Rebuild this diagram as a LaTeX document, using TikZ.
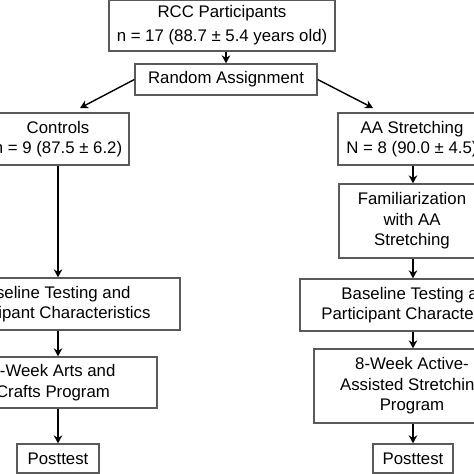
\documentclass[tikz,border=0pt]{standalone}
\usepackage{fontspec}
\setmainfont{Liberation Sans}
\usetikzlibrary{arrows.meta}
\definecolor{boxgray}{HTML}{5A5A5A}

\begin{document}
\begin{tikzpicture}[x=1pt, y=-1pt, >={Stealth[length=8pt,width=8.5pt]},
  font=\fontsize{16.8}{20.5}\selectfont,
  box/.style={draw=boxgray, line width=1.3pt, align=center, inner sep=0pt, fill=white},
  arr/.style={->, line width=1.4pt, black}]

  \useasboundingbox (0,0) rectangle (474,474);
  \clip (0,0) rectangle (474,474);

  % ---- top: participants and assignment ----
  \node[box, minimum width=226pt, minimum height=51pt] (top) at (222,25.5)
    {RCC Participants\\[3.5pt] n = 17 (88.7 ± 5.4 years old)};
  \node[box, minimum width=182pt, minimum height=31pt] (rand) at (226,79.5)
    {Random Assignment};

  \draw[arr] (top.south -| rand.north) -- (rand.north);

  % ---- the two groups ----
  \node[box, minimum width=142pt, minimum height=52pt] (ctrl) at (58,139)
    {Controls\\ n = 9 (87.5 ± 6.2)};
  \node[box, minimum width=148pt, minimum height=52pt] (aa) at (412,139)
    {AA Stretching\\ N = 8 (90.0 ± 4.5)};

  \coordinate (ctrltip) at (80,108);
  \coordinate (aatip) at (373,108);
  \draw[arr] (rand.west) -- (ctrltip);
  \draw[arr] (rand.east) -- (aatip);

  % ---- control column ----
  \node[box, minimum width=254pt, minimum height=52pt] (lbase) at (53,304)
    {Baseline Testing and\\ Participant Characteristics};
  \node[box, minimum width=208pt, minimum height=51pt] (arts) at (53,382.5)
    {8-Week Arts and\\ Crafts Program};
  \node[box, minimum width=82pt, minimum height=29pt] (lpost) at (58,458.5)
    {Posttest};

  \draw[arr] (ctrl.south -| lpost.north) -- (lbase.north -| lpost.north);
  \draw[arr] (lbase.south -| lpost.north) -- (arts.north -| lpost.north);
  \draw[arr] (arts.south -| lpost.north) -- (lpost.north);

  % ---- stretching column ----
  \node[box, minimum width=146pt, minimum height=74pt] (fam) at (412,221)
    {Familiarization\\ with AA\\ Stretching};
  \node[box, minimum width=238pt, minimum height=52pt] (rbase) at (419,305)
    {Baseline Testing and\\ Participant Characteristics};
  \node[box, minimum width=196pt, minimum height=74pt] (stretch) at (412,386)
    {8-Week Active-\\ Assisted Stretching\\ Program};
  \node[box, minimum width=80pt, minimum height=29pt] (rpost) at (413,458.5)
    {Posttest};

  \draw[arr] (aa.south -| rpost.north) -- (fam.north -| rpost.north);
  \draw[arr] (fam.south -| rpost.north) -- (rbase.north -| rpost.north);
  \draw[arr] (rbase.south -| rpost.north) -- (stretch.north -| rpost.north);
  \draw[arr] (stretch.south -| rpost.north) -- (rpost.north);

\end{tikzpicture}
\end{document}
